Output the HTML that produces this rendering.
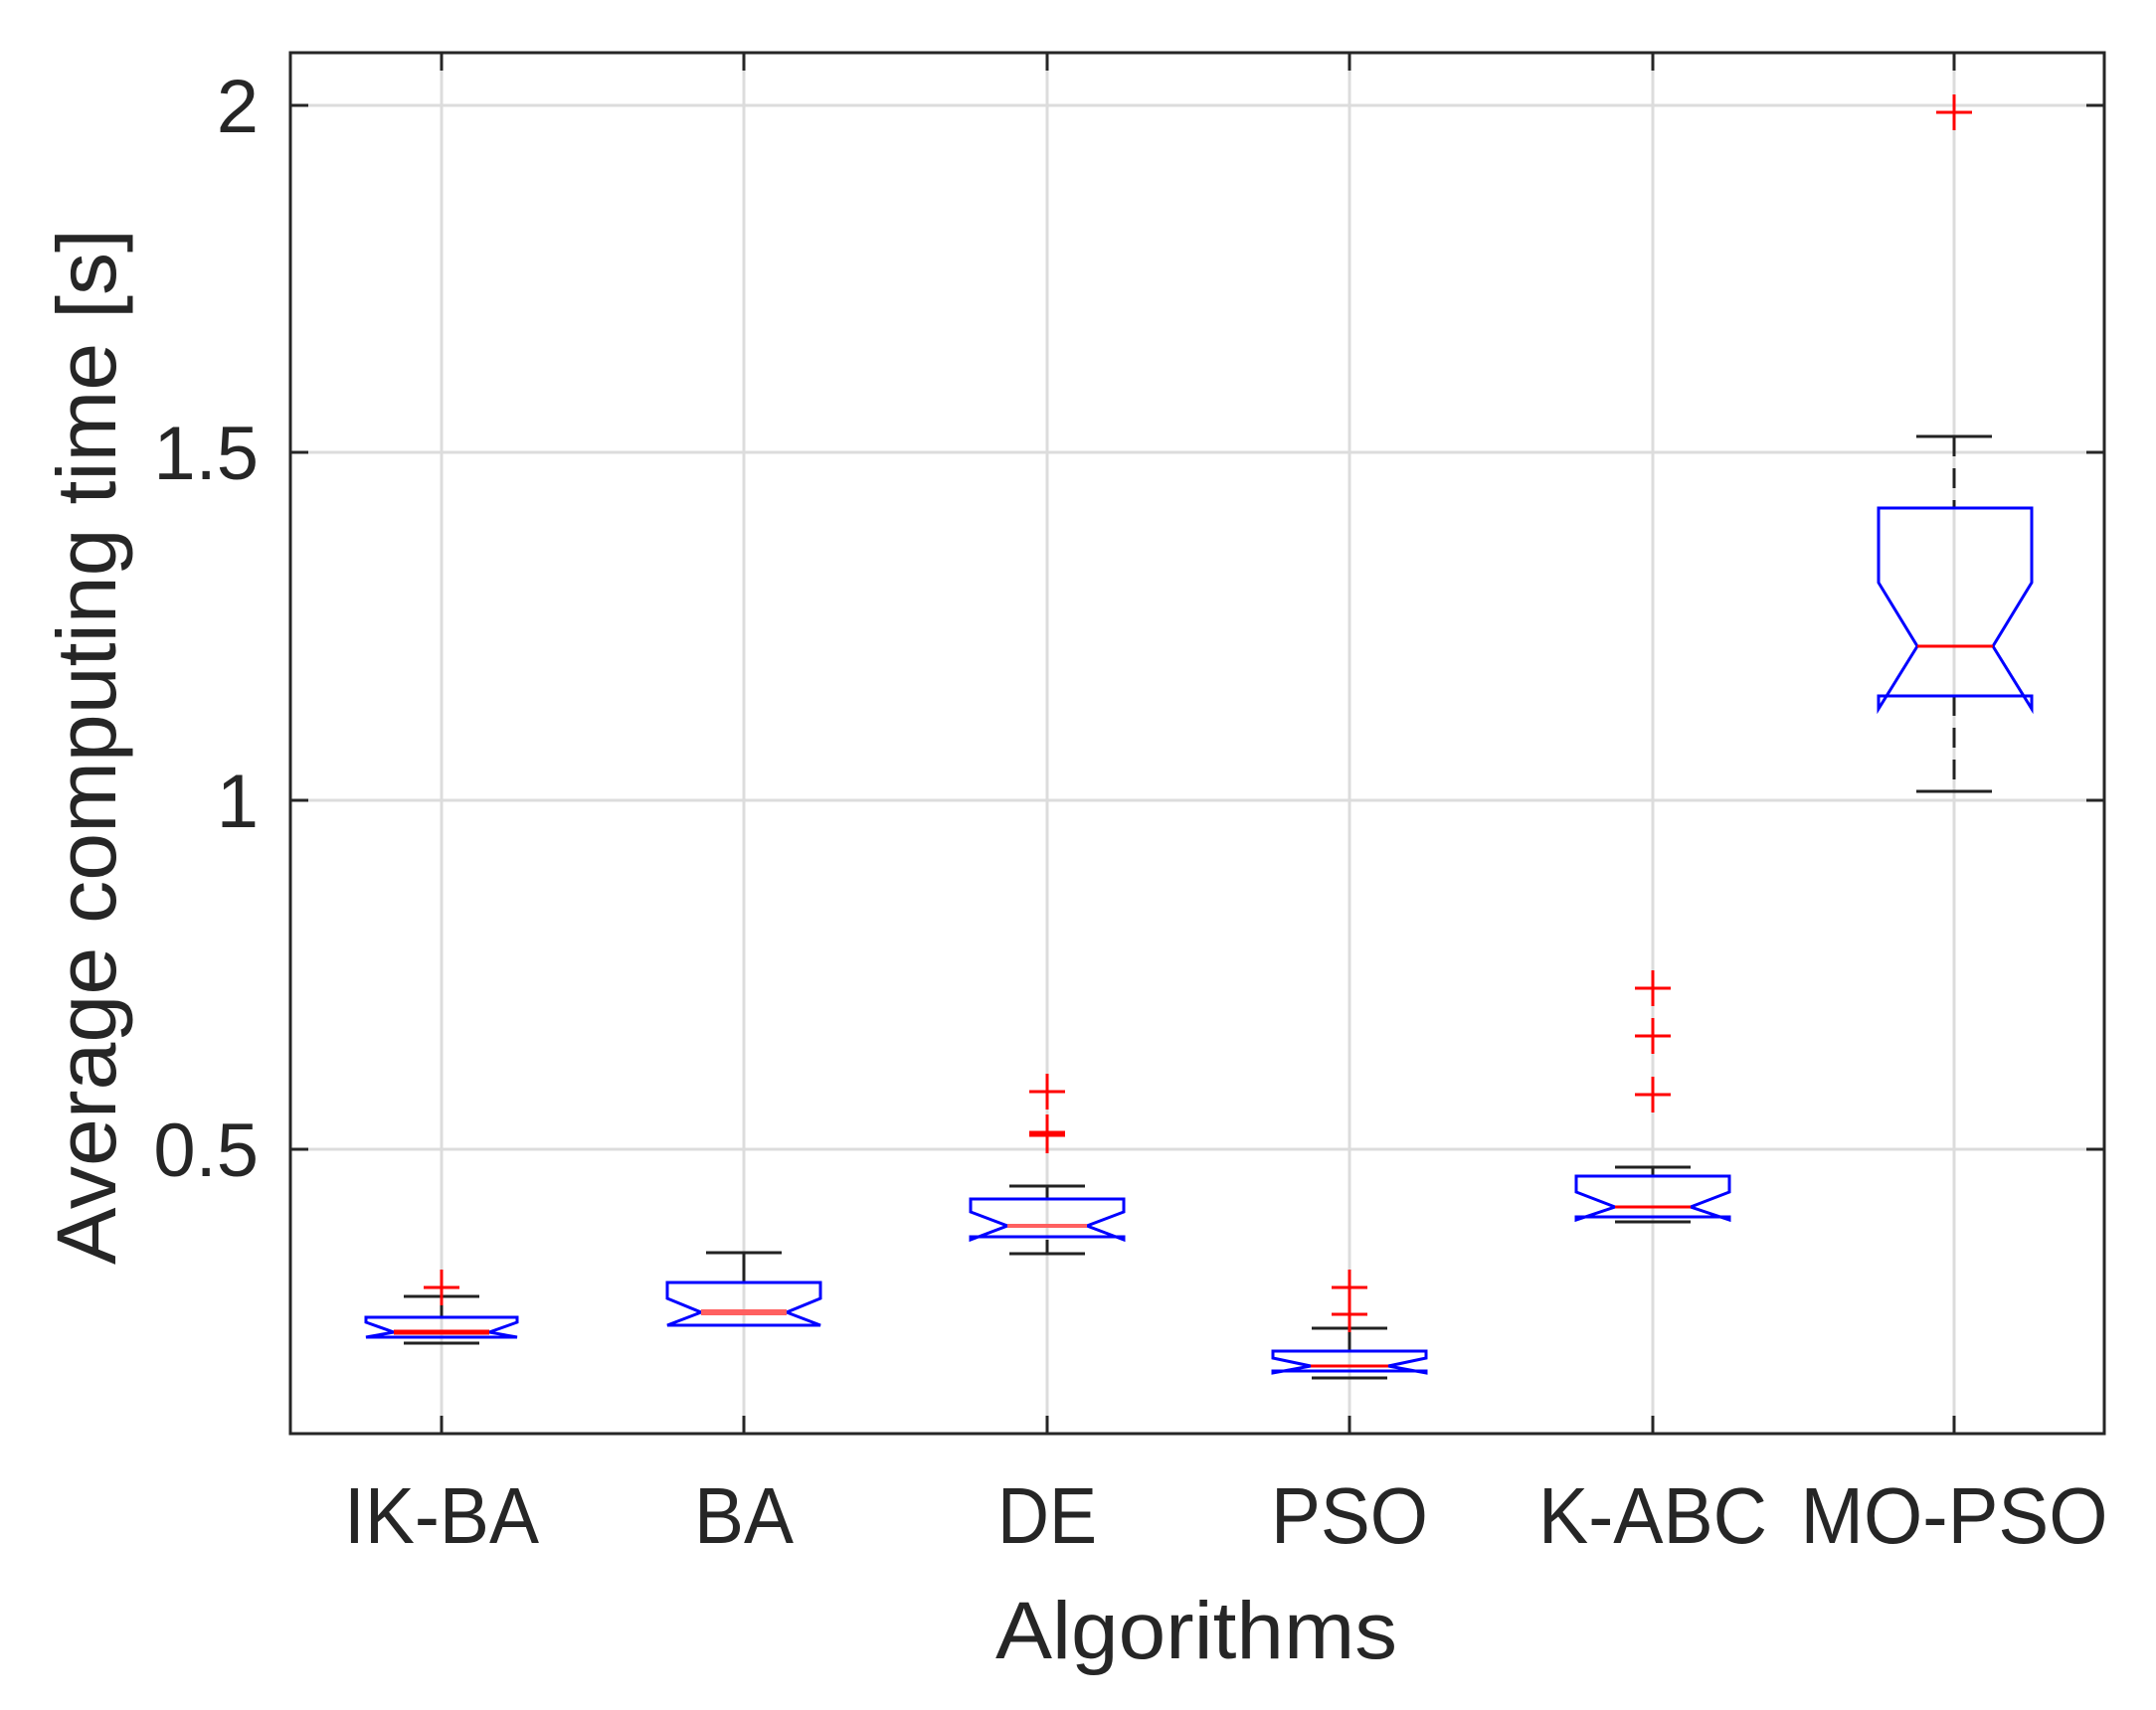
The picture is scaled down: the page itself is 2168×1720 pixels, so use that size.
<!DOCTYPE html>
<html><head><meta charset="utf-8"><style>html,body{margin:0;padding:0;background:#fff}svg{display:block}</style></head>
<body>
<svg width="2168" height="1720" viewBox="0 0 2168 1720" xmlns="http://www.w3.org/2000/svg" font-family="Liberation Sans, sans-serif" fill="#262626">
<rect width="2168" height="1720" fill="#fff"/>
<!-- grid -->
<g stroke="#dcdcdc" stroke-width="3">
<line x1="292" y1="106" x2="2116" y2="106"/>
<line x1="292" y1="455" x2="2116" y2="455"/>
<line x1="292" y1="805" x2="2116" y2="805"/>
<line x1="292" y1="1156" x2="2116" y2="1156"/>
<line x1="444" y1="53" x2="444" y2="1442"/>
<line x1="748" y1="53" x2="748" y2="1442"/>
<line x1="1053" y1="53" x2="1053" y2="1442"/>
<line x1="1357" y1="53" x2="1357" y2="1442"/>
<line x1="1662" y1="53" x2="1662" y2="1442"/>
<line x1="1965" y1="53" x2="1965" y2="1442"/>
</g>
<!-- boxes -->
<g fill="none" stroke-width="3">
<g stroke="#222"><line x1="444" y1="1304" x2="444" y2="1325"/><line x1="406" y1="1304" x2="482" y2="1304"/><line x1="406" y1="1351" x2="482" y2="1351"/></g>
<polygon stroke="#0000ff" points="368,1325 520,1325 520,1330 492,1340 520,1345 520,1345 368,1345 368,1345 396,1340 368,1330"/>
<line stroke="#ff0000" stroke-width="5" x1="396" y1="1340" x2="492" y2="1340"/>
<g stroke="#222"><line x1="748" y1="1260" x2="748" y2="1290"/><line x1="710" y1="1260" x2="786" y2="1260"/><line x1="710" y1="1333" x2="786" y2="1333"/></g>
<polygon stroke="#0000ff" points="671,1290 825,1290 825,1306 791,1320 825,1333 671,1333 705,1320 671,1306"/>
<line stroke="#ff6060" stroke-width="6" x1="705" y1="1320" x2="791" y2="1320"/>
<g stroke="#222"><line x1="1053" y1="1193" x2="1053" y2="1206"/><line x1="1053" y1="1247" x2="1053" y2="1261"/><line x1="1015" y1="1193" x2="1091" y2="1193"/><line x1="1015" y1="1261" x2="1091" y2="1261"/></g>
<polygon stroke="#0000ff" points="976,1206 1130,1206 1130,1219 1093,1233 1130,1247 1130,1244 976,1244 976,1247 1013,1233 976,1219"/>
<line stroke="#ff6060" stroke-width="4" x1="1013" y1="1233" x2="1093" y2="1233"/>
<g stroke="#222"><line x1="1357" y1="1336" x2="1357" y2="1359"/><line x1="1319" y1="1336" x2="1395" y2="1336"/><line x1="1319" y1="1386" x2="1395" y2="1386"/></g>
<polygon stroke="#0000ff" points="1280,1359 1434,1359 1434,1366 1396,1374 1434,1381 1434,1379 1280,1379 1280,1381 1318,1374 1280,1366"/>
<line stroke="#ff0000" stroke-width="3" x1="1318" y1="1374" x2="1396" y2="1374"/>
<g stroke="#222"><line x1="1662" y1="1174" x2="1662" y2="1183"/><line x1="1624" y1="1174" x2="1700" y2="1174"/><line x1="1624" y1="1229" x2="1700" y2="1229"/></g>
<polygon stroke="#0000ff" points="1585,1183 1739,1183 1739,1199 1700,1214 1739,1227 1739,1224 1585,1224 1585,1227 1624,1214 1585,1199"/>
<line stroke="#ff0000" stroke-width="3" x1="1624" y1="1214" x2="1700" y2="1214"/>
<g stroke="#222"><line x1="1965" y1="439" x2="1965" y2="511" stroke-dasharray="20,12"/><line x1="1965" y1="700" x2="1965" y2="796" stroke-dasharray="20,12"/><line x1="1927" y1="439" x2="2003" y2="439"/><line x1="1927" y1="796" x2="2003" y2="796"/></g>
<polygon stroke="#0000ff" points="1889,511 2043,511 2043,586 2004,650 2043,713 2043,700 1889,700 1889,713 1928,650 1889,586"/>
<line stroke="#ff0000" stroke-width="3" x1="1928" y1="650" x2="2004" y2="650"/>
</g>
<!-- outliers -->
<g stroke="#ff0000" stroke-width="3">
<path d="M426 1295h36M444 1277v36"/>
<path d="M1035 1098h36M1053 1080v36"/>
<path d="M1035 1139h36M1053 1121v36"/>
<path d="M1035 1142h36M1053 1124v36"/>
<path d="M1339 1295h36M1357 1277v36"/>
<path d="M1339 1322h36M1357 1304v36"/>
<path d="M1644 994h36M1662 976v36"/>
<path d="M1644 1042h36M1662 1024v36"/>
<path d="M1644 1101h36M1662 1083v36"/>
<path d="M1947 113h36M1965 95v36"/>
</g>
<!-- axes -->
<rect x="292" y="53" width="1824" height="1389" fill="none" stroke="#262626" stroke-width="3"/>
<g stroke="#262626" stroke-width="3">
<path d="M292 106h18M292 455h18M292 805h18M292 1156h18M2116 106h-18M2116 455h-18M2116 805h-18M2116 1156h-18"/>
<path d="M444 1442v-18M748 1442v-18M1053 1442v-18M1357 1442v-18M1662 1442v-18M1965 1442v-18M444 53v18M748 53v18M1053 53v18M1357 53v18M1662 53v18M1965 53v18"/>
</g>
<!-- tick labels -->
<g font-size="76" text-anchor="end">
<text x="260" y="133">2</text>
<text x="260" y="482">1.5</text>
<text x="260" y="832">1</text>
<text x="260" y="1183">0.5</text>
</g>
<g font-size="80" text-anchor="middle" lengthAdjust="spacingAndGlyphs">
<text x="444" y="1552" textLength="196" lengthAdjust="spacingAndGlyphs">IK-BA</text>
<text x="748" y="1552" textLength="100" lengthAdjust="spacingAndGlyphs">BA</text>
<text x="1053" y="1552" textLength="100" lengthAdjust="spacingAndGlyphs">DE</text>
<text x="1357" y="1552" textLength="158" lengthAdjust="spacingAndGlyphs">PSO</text>
<text x="1662" y="1552" textLength="230" lengthAdjust="spacingAndGlyphs">K-ABC</text>
<text x="1965" y="1552" textLength="309" lengthAdjust="spacingAndGlyphs">MO-PSO</text>
</g>
<text x="1001" y="1668" font-size="82" textLength="404" lengthAdjust="spacingAndGlyphs">Algorithms</text>
<text transform="translate(116,1272) rotate(-90)" font-size="84" textLength="1042" lengthAdjust="spacingAndGlyphs">Average computing time [s]</text>
</svg>
</body></html>
